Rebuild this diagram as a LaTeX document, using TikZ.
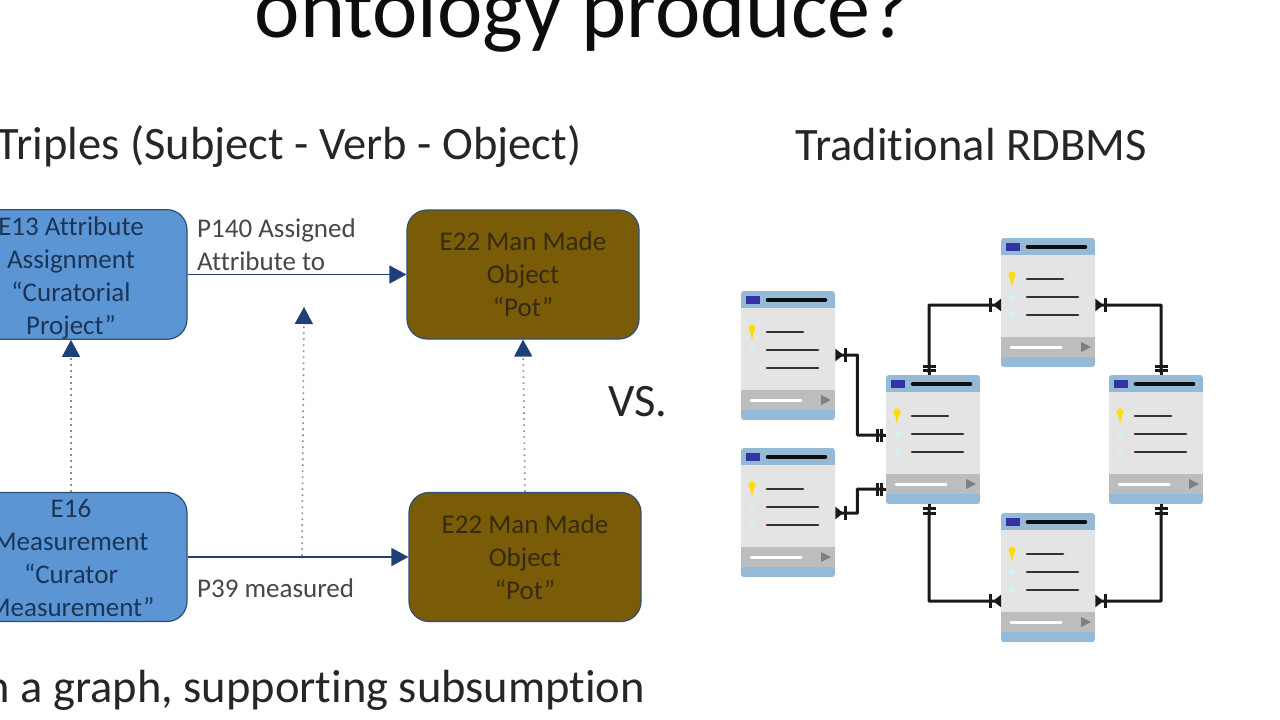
\documentclass[tikz,border=0pt]{standalone}
\usepackage{fontspec}
\setmainfont[Ligatures=NoCommon]{Carlito}
\usetikzlibrary{arrows.meta}
\definecolor{boxblue}{HTML}{5B95D3}
\definecolor{boxbrown}{HTML}{7A5C08}
\definecolor{boxline}{HTML}{2F4F78}
\definecolor{bluetext}{HTML}{1C3557}
\definecolor{browntext}{HTML}{362A10}
\definecolor{arrowblue}{HTML}{1F3F78}
\definecolor{tblblue}{HTML}{94BAD8}
\definecolor{tblbody}{HTML}{E4E4E4}
\definecolor{tblband}{HTML}{BDBDBD}
\tikzset{
  crow/.tip={Bar[width=14pt,length=3pt,sep=1pt]Triangle[reversed,length=8pt,width=12pt]},
  twobar/.tip={Bar[width=13pt,length=2.4pt,sep=1.5pt]Bar[width=13pt,length=2.4pt,sep=0pt]Rectangle[length=3pt,width=3pt]}
}
% one database table, #1 is its name, (#2,#3) its top left corner
\newcommand{\dbtable}[3]{%
  \node[tblcard] (#1) at (#2,#3) {};
  \begin{scope}[shift={(#2,#3)}]
    \clip[rounded corners=3pt] (0,0) rectangle (94,129);
    \fill[tblblue] (0,0) rectangle (94,17);
    \fill[tblband] (0,99) rectangle (94,119);
    \fill[tblblue] (0,119) rectangle (94,129);
    \fill[blue!55!black!80] (5,5) rectangle (19,13);
    \draw[tblbar, black!95, line width=4.6pt] (27,9) -- (84,9);
    \fill[yellow!80!orange] (11,37) circle (3.6pt);
    \fill[yellow!80!orange] (8.5,38) -- (13.5,38) -- (11,49) -- cycle;
    \fill[cyan!18] (11,59) circle (3pt);
    \fill[cyan!18] (11,77) circle (3pt);
    \draw[tblbar] (26,41) -- (62,41);
    \draw[tblbar] (26,59) -- (77,59);
    \draw[tblbar] (26,77) -- (77,77);
    \draw[white, line width=3pt, line cap=round] (10,109) -- (60,109);
    \fill[black!50] (80,104) -- (90,109) -- (80,114) -- cycle;
  \end{scope}
}
\begin{document}
\begin{tikzpicture}[x=1pt, y=-1pt,
    font=\fontsize{27}{33}\selectfont,
    every node/.append style={inner sep=0pt},
    ebox/.style={draw=boxline, line width=1.2pt, rounded corners=20pt, minimum width=232pt,
      minimum height=129pt, align=center},
    eblue/.style={ebox, fill=boxblue, text=bluetext},
    ebrown/.style={ebox, fill=boxbrown, text=browntext},
    prop/.style={anchor=west, align=left, text=black!72},
    head/.style={font=\fontsize{46.5}{54}\selectfont, text=black!85},
    link/.style={draw=arrowblue, line width=1.4pt, -{Triangle[length=17pt,width=18pt]}},
    sublink/.style={draw=black!45, line width=1.6pt, dash pattern=on 1.6pt off 4.4pt,
      -{Triangle[length=17pt,width=18pt,color=arrowblue]}},
    tblcard/.style={anchor=north west, fill=tblbody, rounded corners=3pt, minimum width=94pt, minimum height=129pt},
    tblbar/.style={black!80, line width=2.8pt, line cap=round},
    rel/.style={black!90, line width=3pt, rounded corners=0.5pt}]
  \useasboundingbox (0,0) rectangle (1280,720);
  \clip (0,0) rectangle (1280,720);
  \fill[white] (0,0) rectangle (1280,720);
  % titles
  \node[anchor=base, font=\fontsize{86}{96}\selectfont, text=black!95] (title) at (582.5,37) {ontology produce?};
  \node[head] (triples) at (289,146) {Triples (Subject - Verb - Object)};
  \node[head] (rdbms) at (971,145) {Traditional RDBMS};
  \node[head] (footer) at (310,690) {in a graph, supporting subsumption};
  \node[head] (versus) at (638,402) {VS.};
  % triples
  \node[eblue] (assign) at (71,274.5) {\rule{0pt}{26pt}E13 Attribute\\Assignment\\“Curatorial\\Project”};
  \node[ebrown] (potA) at (523,274.5) {E22 Man Made\\Object\\“Pot”};
  \node[eblue] (measure) at (71,557) {\rule{0pt}{19.5pt}E16\\Measurement\\“Curator\\Measurement”};
  \node[ebrown] (potB) at (525,557) {E22 Man Made\\Object\\“Pot”};
  \draw[link] (assign) -- (potA);
  \draw[link] (measure) -- (potB);
  \node[prop] (assigned) at (197,244.5) {P140 Assigned\\Attribute to};
  \node[prop] (measured) at (197,588) {P39 measured};
  \coordinate (midtop) at (304,307);
  \coordinate (midlow) at (302,556);
  \draw[sublink] (measure.north) -- (assign.south);
  \draw[sublink] (potB.north) -- (potA.south);
  \draw[sublink] (midlow) -- (midtop);
  % tables
  \dbtable{tleft}{741}{291}
  \dbtable{bleft}{741}{448}
  \dbtable{hub}{886}{375}
  \dbtable{ttop}{1001}{238}
  \dbtable{tright}{1109}{375}
  \dbtable{tbot}{1001}{513}
  \draw[rel, {crow}-{twobar}] ([yshift=-64pt]tleft.north east) -- ++(22,0) |- ([yshift=-60pt]hub.north west);
  \draw[rel, {crow}-{twobar}] ([yshift=-65pt]bleft.north east) -- ++(22,0) |- ([yshift=-114pt]hub.north west);
  \draw[rel, {twobar}-{crow}] ([xshift=43pt]hub.north west) |- ([yshift=-67pt]ttop.north west);
  \draw[rel, {crow}-{twobar}] ([yshift=-67pt]ttop.north east) -| ([xshift=52pt]tright.north west);
  \draw[rel, {twobar}-{crow}] ([xshift=43pt]hub.south west) |- ([yshift=-88pt]tbot.north west);
  \draw[rel, {crow}-{twobar}] ([yshift=-88pt]tbot.north east) -| ([xshift=52pt]tright.south west);
\end{tikzpicture}
\end{document}
